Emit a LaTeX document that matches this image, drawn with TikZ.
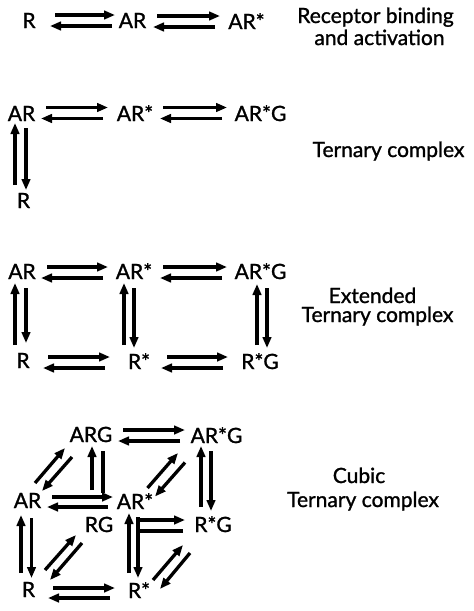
\documentclass[tikz,border=0pt]{standalone}
\usepackage{fontspec}
\setmainfont{Lato}[FakeBold=1.2]
\usetikzlibrary{arrows.meta}

\begin{document}
\begin{tikzpicture}[x=1pt, y=-1pt,
    species/.style={anchor=base, inner sep=0pt, font=\fontsize{21}{25}\selectfont},
    heading/.style={anchor=base, inner sep=0pt, font=\fontsize{21}{25}\selectfont},
    rate/.style={line width=3.3pt, -{Triangle[length=11pt,width=8.5pt]}},
    stub/.style={line width=3.3pt}]
\useasboundingbox (0,0) rectangle (474,611);

\node[species] (bR) at (29,28) {R};
\node[species] (bAR) at (132.5,28) {AR};
\node[species] (bARs) at (246.5,29) {AR*};
\node[heading] (bNote) at (375.5,23) {Receptor binding};
\node[heading] (bNoteb) at (379.5,45) {and activation};
\draw[rate] ([shift={(26,-13)}]bR.base) -- ([shift={(-17.5,-13)}]bAR.base);
\draw[rate] ([shift={(-20.5,-2)}]bAR.base) -- ([shift={(21,-2)}]bR.base);
\draw[rate] ([shift={(24.5,-12)}]bAR.base) -- ([shift={(-26.5,-13)}]bARs.base);
\draw[rate] ([shift={(-31.5,-2)}]bARs.base) -- ([shift={(20.5,-1)}]bAR.base);

\node[species] (tAR) at (21.5,121) {AR};
\node[species] (tARs) at (135,121) {AR*};
\node[species] (tARsG) at (260.5,121) {AR*G};
\node[species] (tR) at (23.5,208) {R};
\node[heading] (tNote) at (388.5,157) {Ternary complex};
\draw[rate] ([shift={(24.5,-13.5)}]tAR.base) -- ([shift={(-27,-13.5)}]tARs.base);
\draw[rate] ([shift={(-32,-2.5)}]tARs.base) -- ([shift={(19.5,-2.5)}]tAR.base);
\draw[rate] ([shift={(28,-13.5)}]tARs.base) -- ([shift={(-33.5,-13.5)}]tARsG.base);
\draw[rate] ([shift={(-38.5,-2.5)}]tARsG.base) -- ([shift={(25,-2.5)}]tARs.base);
\draw[rate] ([shift={(-8.5,-23)}]tR.base) -- ([shift={(-6.5,2)}]tAR.base);
\draw[rate] ([shift={(4.5,7)}]tAR.base) -- ([shift={(2.5,-18)}]tR.base);

\node[species] (eAR) at (22,279) {AR};
\node[species] (eARs) at (134,279) {AR*};
\node[species] (eARsG) at (260.5,279) {AR*G};
\node[species] (eR) at (23,368) {R};
\node[species] (eRs) at (139,369) {R*};
\node[species] (eRsG) at (260,369) {R*G};
\node[heading] (eNote) at (372.5,303) {Extended};
\node[heading] (eNoteb) at (377.5,322) {Ternary complex};
\draw[rate] ([shift={(25,-12)}]eAR.base) -- ([shift={(-26,-12)}]eARs.base);
\draw[rate] ([shift={(-31,-1)}]eARs.base) -- ([shift={(19,-1)}]eAR.base);
\draw[rate] ([shift={(29,-12)}]eARs.base) -- ([shift={(-33.5,-12)}]eARsG.base);
\draw[rate] ([shift={(-38.5,-1)}]eARsG.base) -- ([shift={(26,-1)}]eARs.base);
\draw[rate] ([shift={(25,-11)}]eR.base) -- ([shift={(-29,-12)}]eRs.base);
\draw[rate] ([shift={(-34,-1)}]eRs.base) -- ([shift={(20,0)}]eR.base);
\draw[rate] ([shift={(28,-12)}]eRs.base) -- ([shift={(-32,-12)}]eRsG.base);
\draw[rate] ([shift={(-37,-1)}]eRsG.base) -- ([shift={(22,-1)}]eRs.base);
\draw[rate] ([shift={(-8,-23)}]eR.base) -- ([shift={(-7,4)}]eAR.base);
\draw[rate] ([shift={(4,9)}]eAR.base) -- ([shift={(3,-25)}]eR.base);
\draw[rate] ([shift={(-15,-24)}]eRs.base) -- ([shift={(-10,4)}]eARs.base);
\draw[rate] ([shift={(0,9)}]eARs.base) -- ([shift={(-5,-21)}]eRs.base);
\draw[rate] ([shift={(-3,-24)}]eRsG.base) -- ([shift={(-3.5,5)}]eARsG.base);
\draw[rate] ([shift={(6.5,9)}]eARsG.base) -- ([shift={(7,-21)}]eRsG.base);

\node[species] (cARG) at (91,442) {ARG};
\node[species] (cARsG) at (216.5,443) {AR*G};
\node[species] (cAR) at (27.5,508) {AR};
\node[species] (cARs) at (135,509) {AR*};
\node[species] (cRG) at (99,532) {RG};
\node[species] (cRsG) at (213,532) {R*G};
\node[species] (cR) at (28.5,597) {R};
\node[species] (cRs) at (139,598) {R*};
\node[heading] (cNote) at (359,483) {Cubic};
\node[heading] (cNoteb) at (363,507) {Ternary complex};
\draw[rate] ([shift={(32,-12)}]cARG.base) -- ([shift={(-31.5,-13)}]cARsG.base);
\draw[rate] ([shift={(-36.5,-2)}]cARsG.base) -- ([shift={(27,-1)}]cARG.base);
\draw[rate] ([shift={(24.5,-11)}]cAR.base) -- ([shift={(-22,-12)}]cARs.base);
\draw[rate] ([shift={(-27,-2)}]cARs.base) -- ([shift={(19.5,-1)}]cAR.base);
\draw[rate] ([shift={(24.5,-9)}]cR.base) -- ([shift={(-24,-10)}]cRs.base);
\draw[rate] ([shift={(-29,0)}]cRs.base) -- ([shift={(19.5,1)}]cR.base);
\draw[rate] ([shift={(39,-12)}]cRG.base) -- ([shift={(-28,-12)}]cRsG.base);
\draw[stub] ([shift={(-30,-1)}]cRsG.base) -- ([shift={(39,-1)}]cRG.base);
\draw[rate] ([shift={(-7,-42)}]cRG.base) -- ([shift={(1,4)}]cARG.base);
\draw[stub] ([shift={(12,9)}]cARG.base) -- ([shift={(4,-39)}]cRG.base);
\draw[rate] ([shift={(-7.5,-24)}]cR.base) -- ([shift={(-6.5,7)}]cAR.base);
\draw[rate] ([shift={(4,10)}]cAR.base) -- ([shift={(3,-19)}]cR.base);
\draw[rate] ([shift={(-10,-25)}]cRs.base) -- ([shift={(-6,4)}]cARs.base);
\draw[rate] ([shift={(3,8)}]cARs.base) -- ([shift={(-1,-20)}]cRs.base);
\draw[rate] ([shift={(-12,-25)}]cRsG.base) -- ([shift={(-15.5,3)}]cARsG.base);
\draw[rate] ([shift={(-5.5,8)}]cARsG.base) -- ([shift={(-2,-21)}]cRsG.base);
\draw[rate] ([shift={(7.5,-25)}]cAR.base) -- ([shift={(-26,6)}]cARG.base);
\draw[rate] ([shift={(-19,15)}]cARG.base) -- ([shift={(14.5,-17)}]cAR.base);
\draw[rate] ([shift={(12.5,-21)}]cARs.base) -- ([shift={(-38.5,10)}]cARsG.base);
\draw[rate] ([shift={(-31.5,19.5)}]cARsG.base) -- ([shift={(20,-12.5)}]cARs.base);
\draw[rate] ([shift={(16.5,-27)}]cR.base) -- ([shift={(-23,3)}]cRG.base);
\draw[rate] ([shift={(-17,11)}]cRG.base) -- ([shift={(21.5,-17)}]cR.base);
\draw[rate] ([shift={(14,-18)}]cRs.base) -- ([shift={(-30,13)}]cRsG.base);
\draw[rate] ([shift={(-23,21)}]cRsG.base) -- ([shift={(21,-9)}]cRs.base);
\end{tikzpicture}
\end{document}
